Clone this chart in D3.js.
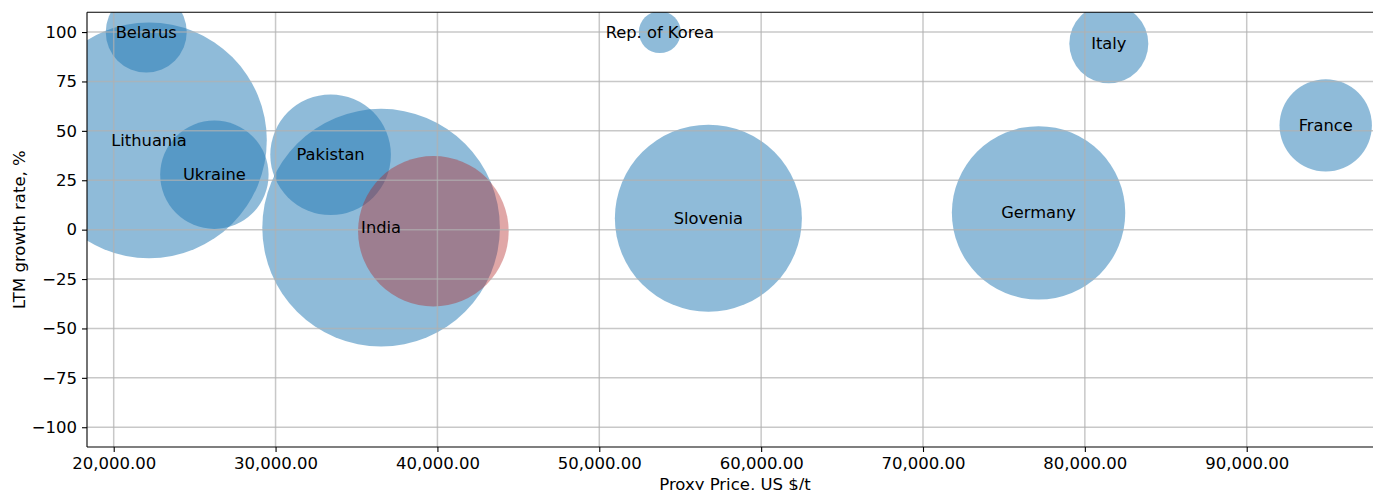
<!DOCTYPE html>
<html>
<head>
<meta charset="utf-8">
<script src="https://cdn.jsdelivr.net/npm/d3@7"></script>
<style>
  html, body { margin: 0; padding: 0; background: #fff; overflow: hidden; }
  text { font-family: "DejaVu Sans", sans-serif; fill: #000; }
</style>
</head>
<body>
<svg id="chart" width="1373" height="490"></svg>
<script>
// ---- data ----
const countries = ["Lithuania", "Belarus", "Ukraine", "Pakistan", "India", "Rep. of Korea", "Slovenia", "Germany", "Italy", "France"];
const proxyPrice = [22180, 22010, 26220, 33400, 36520, 53740, 56740, 77140, 81480, 94880];
const growthRate = [45.2, 100, 27.8, 37.9, 1.0, 100, 5.8, 8.5, 94.1, 52.8];
const tradeVolume = [13877, 1640, 2938, 3636, 14113, 441, 8742, 7517, 1560, 2134];

const highlightName = ["India (highlight)"];
const highlightPrice = [39750];
const highlightGrowth = [-0.8];
const highlightVolume = [5670];

const xTicks = [20000, 30000, 40000, 50000, 60000, 70000, 80000, 90000];
const yTicks = [-100, -75, -50, -25, 0, 25, 50, 75, 100];
const xLabel = "Proxy Price, US $/t";
const yLabel = "LTM growth rate, %";

// ---- layout ----
const svg = d3.select("#chart");
const L = 87, R = 1383, T = 12.3, B = 447;

const x = d3.scaleLinear().domain([18350, 98420]).range([L, R]);
const y = d3.scaleLinear().domain([-110, 110]).range([B, T]);
const r = d3.scaleSqrt().domain([0, d3.max(tradeVolume)]).range([0, 118.8]);

svg.append("defs").append("clipPath").attr("id", "plotclip")
  .append("rect").attr("x", L).attr("y", T).attr("width", R - L).attr("height", B - T);

// bubbles
const plot = svg.append("g").attr("clip-path", "url(#plotclip)");
const main = countries.map((c, i) => ({ name: c, px: proxyPrice[i], g: growthRate[i], v: tradeVolume[i] }));
plot.selectAll("circle.main").data(main).join("circle")
  .attr("class", "main")
  .attr("cx", d => x(d.px)).attr("cy", d => y(d.g)).attr("r", d => r(d.v))
  .attr("fill", "#1f77b4").attr("fill-opacity", 0.5);

const hl = highlightName.map((c, i) => ({ name: c, px: highlightPrice[i], g: highlightGrowth[i], v: highlightVolume[i] }));
plot.selectAll("circle.hl").data(hl).join("circle")
  .attr("class", "hl")
  .attr("cx", d => x(d.px)).attr("cy", d => y(d.g)).attr("r", d => r(d.v))
  .attr("fill", "#b22222").attr("fill-opacity", 0.4);

// grid (drawn above the bubbles, as in the reference)
const grid = svg.append("g").attr("class", "grid").attr("stroke", "#b0b0b0").attr("stroke-opacity", 0.7).attr("stroke-width", 1.5);
grid.selectAll("line.gx").data(xTicks).join("line")
  .attr("x1", d => x(d)).attr("x2", d => x(d))
  .attr("y1", T).attr("y2", B);
grid.selectAll("line.gy").data(yTicks).join("line")
  .attr("x1", L).attr("x2", R)
  .attr("y1", d => y(d)).attr("y2", d => y(d));

// labels
svg.append("g").attr("clip-path", "url(#plotclip)")
  .selectAll("text.lbl").data(main).join("text")
  .attr("class", "lbl")
  .attr("x", d => x(d.px)).attr("y", d => y(d.g))
  .attr("text-anchor", "middle").attr("dominant-baseline", "central")
  .attr("font-size", "16.3px")
  .text(d => d.name);

// axes
const xAxis = d3.axisBottom(x).tickValues(xTicks).tickFormat(d3.format(",.2f")).tickSize(5).tickPadding(5);
const gx = svg.append("g").attr("transform", `translate(0,${B})`).call(xAxis);
gx.select(".domain").remove();
gx.selectAll(".tick line").attr("stroke", "#000").attr("stroke-width", 1.1);
gx.selectAll(".tick text").attr("font-size", "16.5px").attr("font-family", "DejaVu Sans").attr("fill", "#000");

const yAxis = d3.axisLeft(y).tickValues(yTicks).tickFormat(d3.format("d")).tickSize(5).tickPadding(5);
const gy = svg.append("g").attr("transform", `translate(${L},0)`).call(yAxis);
gy.select(".domain").remove();
gy.selectAll(".tick line").attr("stroke", "#000").attr("stroke-width", 1.1);
gy.selectAll(".tick text").attr("font-size", "16.5px").attr("font-family", "DejaVu Sans").attr("fill", "#000");

// spines
const sp = svg.append("g").attr("stroke", "#000").attr("stroke-width", 1.1);
sp.append("line").attr("x1", L).attr("x2", L).attr("y1", T).attr("y2", B);
sp.append("line").attr("x1", L).attr("x2", R).attr("y1", T).attr("y2", T);
sp.append("line").attr("x1", L).attr("x2", R).attr("y1", B).attr("y2", B);
sp.append("line").attr("x1", R).attr("x2", R).attr("y1", T).attr("y2", B);

// axis titles
svg.append("text").attr("x", (L + R) / 2).attr("y", 484)
  .attr("text-anchor", "middle").attr("dominant-baseline", "central")
  .attr("font-size", "16.5px").text(xLabel);
svg.append("text").attr("transform", `translate(19.5,${(T + B) / 2}) rotate(-90)`)
  .attr("text-anchor", "middle").attr("dominant-baseline", "central")
  .attr("font-size", "16.5px").text(yLabel);
</script>
</body>
</html>
